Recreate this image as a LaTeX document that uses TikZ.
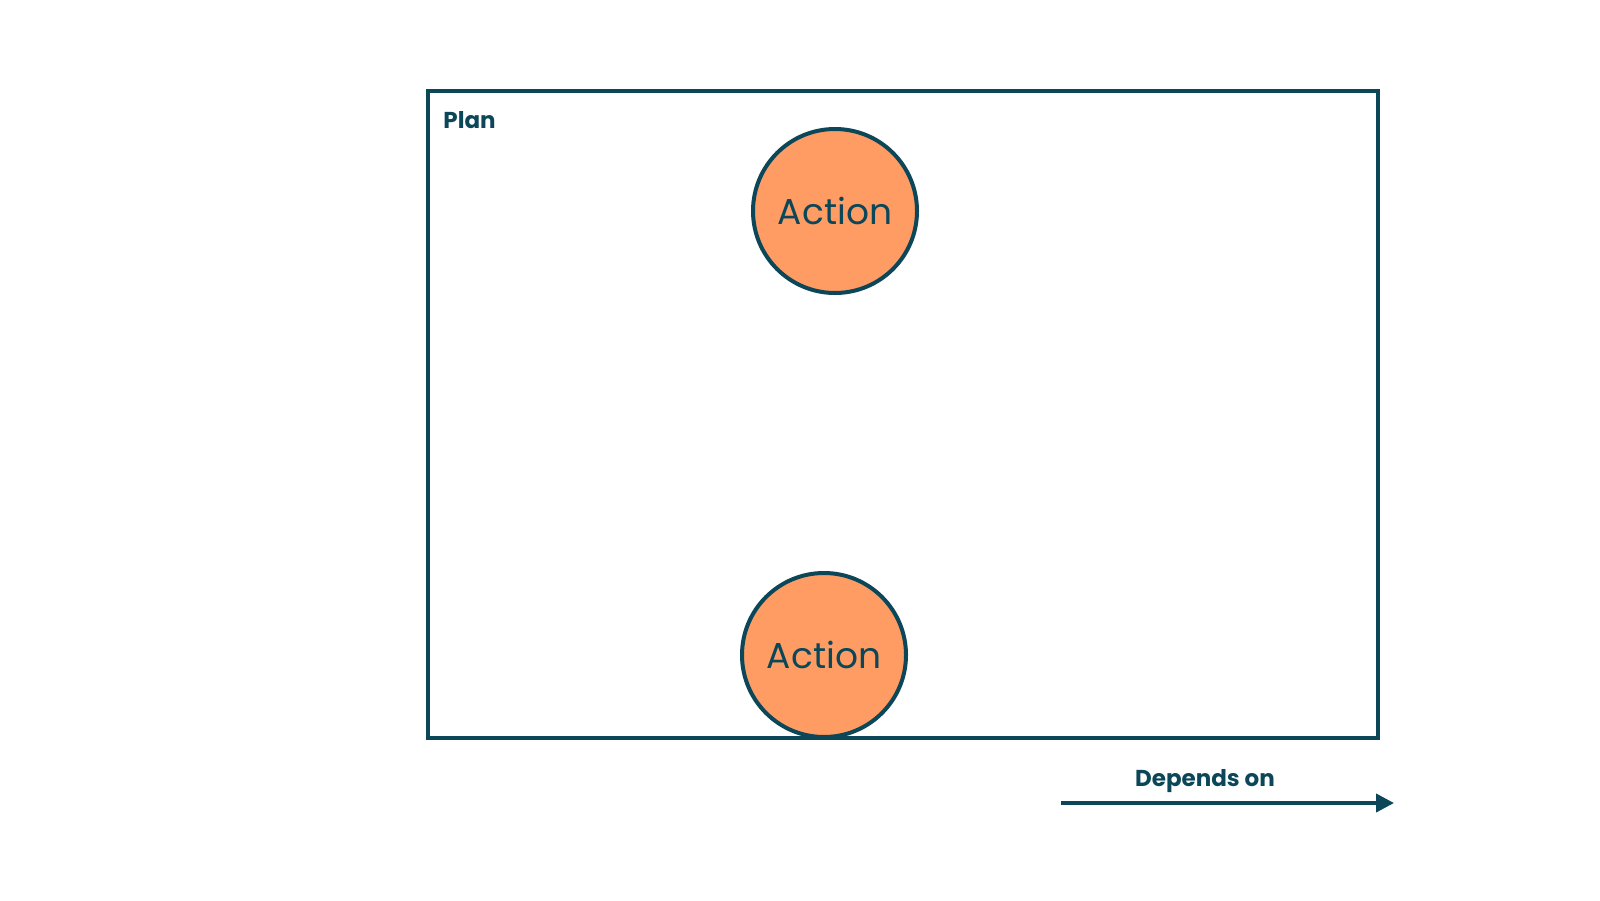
\documentclass[tikz,border=0pt]{standalone}
\usepackage{fontspec}
\setmainfont{Poppins}
\usetikzlibrary{arrows.meta}
\definecolor{ink}{HTML}{0B4758}
\definecolor{fillor}{HTML}{FF9C64}
\tikzset{
  action/.style={circle,draw=ink,line width=2pt,fill=fillor,minimum size=82pt,inner sep=0pt,text=ink,font=\fontsize{18}{21}\selectfont},
  lbl/.style={text=ink,font=\bfseries\fontsize{11.5}{14}\selectfont,inner sep=0pt},
}
\begin{document}
\begin{tikzpicture}[x=0.5pt,y=-0.5pt]
\useasboundingbox[fill=white] (0,0) rectangle (1600,900);
\node[draw=ink,line width=2pt,minimum width=475pt,minimum height=323.5pt,inner sep=0pt,anchor=north west] (plan) at (426,89) {};
\node[lbl,anchor=west] (planlbl) at (443,120) {Plan};
\node[action] (a1) at (835,211) {Action};
\node[action] (a2) at (824,655) {Action};
\coordinate (s) at (1061,803);
\coordinate (e) at (1394,803);
\draw[ink,line width=2pt,-{Triangle[length=9pt,width=9pt]}] (s) -- (e);
\node[lbl] (dep) at (1205,781) {Depends on};
\end{tikzpicture}
\end{document}
